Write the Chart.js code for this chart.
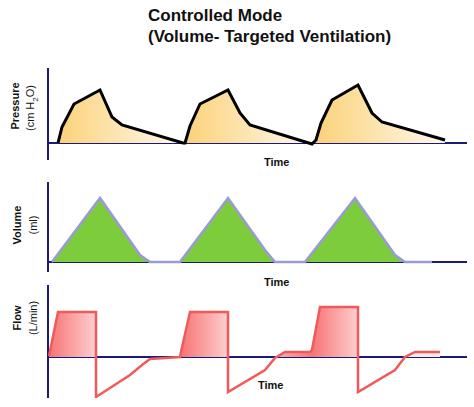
<!DOCTYPE html>
<html><head><meta charset="utf-8">
<script src="https://cdn.jsdelivr.net/npm/chart.js@4.4.0/dist/chart.umd.min.js"></script>
<style>
body{margin:0;background:#fff;width:474px;height:407px;position:relative;overflow:hidden;font-family:"Liberation Sans",Arial,sans-serif}
canvas{position:absolute;left:0}
.t{position:absolute;font-weight:bold;color:#111}
.r{position:absolute;transform:translate(-50%,-50%) rotate(-90deg);white-space:nowrap;font-size:11px;color:#111}
</style></head><body>
<div class="t" style="left:148px;top:6px;font-size:17px">Controlled Mode</div>
<div class="t" style="left:148px;top:27px;font-size:17px">(Volume- Targeted Ventilation)</div>
<div class="r" style="left:15px;top:106px;font-weight:bold">Pressure</div>
<div class="r" style="left:32px;top:108px">(cm H<sub style="font-size:8px">2</sub>O)</div>
<div class="r" style="left:17px;top:225px;font-weight:bold">Volume</div>
<div class="r" style="left:33px;top:225px">(ml)</div>
<div class="r" style="left:17px;top:318px;font-weight:bold">Flow</div>
<div class="r" style="left:33px;top:318px">(L/min)</div>
<div class="t" style="left:264px;top:156px;font-size:11px">Time</div>
<div class="t" style="left:264px;top:276px;font-size:11px">Time</div>
<div class="t" style="left:258px;top:379px;font-size:11px">Time</div>
<canvas id="cP" style="top:68px" width="474" height="92"></canvas>
<canvas id="cV" style="top:182px" width="474" height="90"></canvas>
<canvas id="cF" style="top:285px" width="474" height="113"></canvas>
<script>
// time positions and amplitudes
const pressureT = [58,62,74,100,112,122,183, 185,190,200,228,240,250,312, 316,321,332,358,372,382,445];
const pressureV = [0,16,39,53,26,18,0, 0,17,39,53,30,18,-1, 3,20,43,58,30,21,3];
const volumeT = [52,100,140,150,180, 180,228,265,275,305, 305,355,395,405,432];
const volumeV = [0,64,7,0,0, 0,64,12,0,0, 0,64,7,0,0];
const flowT = [49,58,96,96,130,142,150,180, 181,190,228,228,265,275,285,310, 312,320,358,358,395,405,415,440];
const flowV = [1,45,45,-40,-18,-8,-2,0, 5,45,45,-35,-13,-1,5,5, 7,50,50,-35,-13,0,5,5];

function pts(t, v){ return t.map((x,i)=>({x, y:v[i]})); }
const AXIS = '#1a1a7a';

function make(id, data, ymin, ymax, line, fillFn, lw){
  const cv = document.getElementById(id);
  new Chart(cv, {
    type:'line',
    data:{datasets:[{data, borderColor:line, borderWidth:lw, pointRadius:0, tension:0,
      fill:{target:'origin', above:fillFn, below:'rgba(0,0,0,0)'}, borderJoinStyle:'miter'}]},
    options:{responsive:false, animation:false, parsing:false,
      layout:{padding:{right:8,left:0,top:0,bottom:0}},
      plugins:{legend:{display:false}, tooltip:{enabled:false}},
      scales:{
        x:{type:'linear', min:48, max:466, position:{y:0},
           ticks:{display:false}, grid:{display:false, drawTicks:false}, border:{color:AXIS, width:2}},
        y:{min:ymin, max:ymax, ticks:{display:false}, grid:{display:false, drawTicks:false},
           border:{color:AXIS, width:2}, afterFit:s=>{s.width=48;}}
      }}
  });
}
function grad(c0, c1){
  return ctx=>{
    const a = ctx.chart.chartArea; if(!a) return c0;
    const g = ctx.chart.ctx.createLinearGradient(a.left, 0, a.right, 0);
    const s = ctx.chart.scales.x;
    [[58,185],[185,316],[316,450]].forEach(([p,q])=>{
      const f = x=>Math.min(1,Math.max(0,(s.getPixelForValue(x)-a.left)/(a.right-a.left)));
      g.addColorStop(f(p)+0.001, c0); g.addColorStop(f(q)-0.002, c1);
    });
    return g;
  };
}
function gradF(c0, c1){
  return ctx=>{
    const a = ctx.chart.chartArea; if(!a) return c0;
    const g = ctx.chart.ctx.createLinearGradient(a.left, 0, a.right, 0);
    const s = ctx.chart.scales.x;
    [[49,110],[181,242],[312,372]].forEach(([p,q])=>{
      const f = x=>Math.min(1,Math.max(0,(s.getPixelForValue(x)-a.left)/(a.right-a.left)));
      g.addColorStop(f(p)+0.001, c0); g.addColorStop(f(q)-0.002, c1);
    });
    return g;
  };
}
make('cP', pts(pressureT, pressureV), -17, 75, '#000', grad('#fbd27a','#fffaf0'), 3);
make('cV', pts(volumeT, volumeV), -10, 80, '#9a9ad8', '#7ccc3c', 2.5);
make('cF', pts(flowT, flowV), -41, 72, '#f05a5a', gradF('#f77575','#ffe8e8'), 2.5);
</script></body></html>
